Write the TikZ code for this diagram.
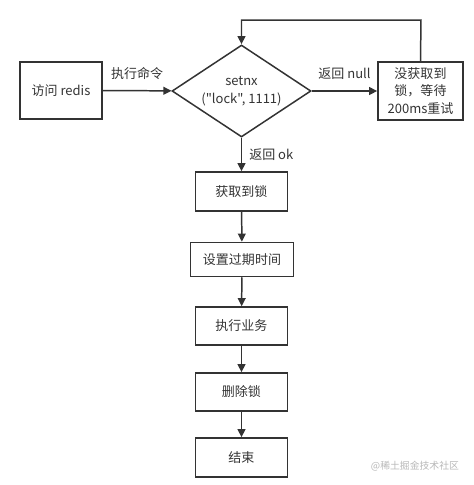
\documentclass[tikz,border=0pt]{standalone}
\usepackage{fontspec}
\setmainfont{Noto Sans CJK SC}[Ligatures=TeXOff]
\usetikzlibrary{shapes.geometric,arrows.meta}

\definecolor{ink}{HTML}{333333}

\begin{document}
\begin{tikzpicture}[x=0.02cm,y=-0.02cm,line join=miter,
    box/.style={draw=ink,line width=0.85pt,rectangle,inner sep=0pt,align=center,
      text=ink,font=\fontsize{7.4}{10}\selectfont},
    decision/.style={draw=ink,line width=0.85pt,diamond,aspect=1.5,inner sep=0pt,align=center,
      text=ink,font=\fontsize{7.4}{10}\selectfont},
    arr/.style={draw=ink,line width=0.85pt,-{Triangle[length=4.6pt,width=4.4pt]}},
    lbl/.style={text=ink,font=\fontsize{7.4}{10}\selectfont,inner sep=0pt}]
  \useasboundingbox (0,0) rectangle (474,485);
  \node[box,minimum width=82*0.02cm,minimum height=57*0.02cm] (visit) at (61,90.5) {访问 redis};
  \node[decision,minimum width=139*0.02cm,minimum height=92*0.02cm] (setnx) at (241.5,91) {setnx\\("lock", 1111)};
  \node[box,minimum width=85*0.02cm,minimum height=58*0.02cm] (retry) at (420.5,91) {没获取到\\锁，等待\\200ms重试};
  \node[box,minimum width=92*0.02cm,minimum height=39*0.02cm] (got) at (241.5,191.5) {获取到锁};
  \node[box,minimum width=103*0.02cm,minimum height=34*0.02cm] (expire) at (242,259.5) {设置过期时间};
  \node[box,minimum width=92*0.02cm,minimum height=38*0.02cm] (biz) at (241.5,326) {执行业务};
  \node[box,minimum width=92*0.02cm,minimum height=38*0.02cm] (del) at (241.5,392) {删除锁};
  \node[box,minimum width=92*0.02cm,minimum height=39*0.02cm] (end) at (241.5,457.5) {结束};
  % connectors
  \draw[arr] (visit) -- (setnx) node[lbl,midway,above=6pt] {执行命令};
  \draw[arr] (setnx) -- (retry) node[lbl,midway,above=6pt] {返回 null};
  \coordinate (loop) at (421,20);
  \draw[arr] (retry.north) -- (loop) -| (setnx.north);
  \draw[arr] (setnx) -- (got) node[lbl,midway,right=4pt] {返回 ok};
  \draw[arr] (got) -- (expire);
  \draw[arr] (expire) -- (biz);
  \draw[arr] (biz) -- (del);
  \draw[arr] (del) -- (end);
  % watermark
  \node[text=black!28,font=\fontsize{5.6}{7}\selectfont,inner sep=0pt] (mark) at (415,466) {@稀土掘金技术社区};
\end{tikzpicture}
\end{document}
